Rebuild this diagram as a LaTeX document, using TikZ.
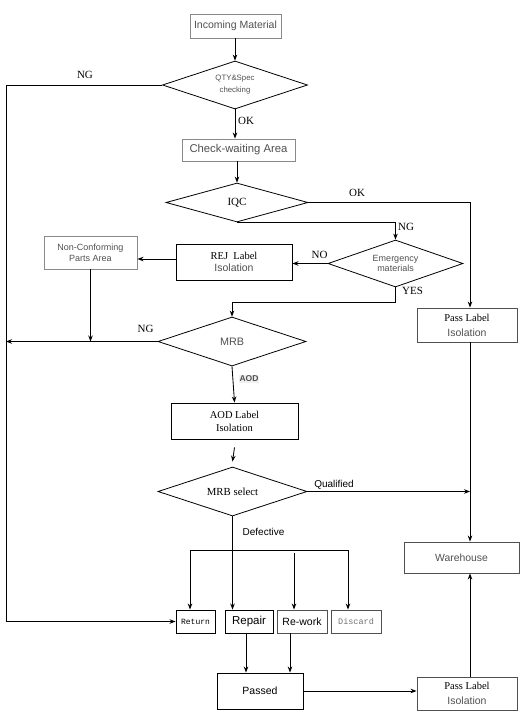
\documentclass[tikz,border=0pt]{standalone}
\usepackage{fontspec}
\setmainfont{Liberation Serif}
\setsansfont{Liberation Sans}
\setmonofont{Liberation Mono}
\usetikzlibrary{shapes.geometric,arrows.meta}
\definecolor{txtgray}{HTML}{505050}
\definecolor{bordgray}{HTML}{8A8A8A}
\newcommand{\fsz}[2]{\fontsize{#1}{#2}\selectfont}
\tikzset{
  box/.style={draw, rectangle, inner sep=0pt, line width=0.9pt, align=center},
  gbox/.style={box, draw=bordgray},
  dia/.style={draw, diamond, shape aspect=3, inner sep=0pt, line width=0.8pt, align=center},
  arr/.style={-{Stealth[length=6pt,width=4.5pt]}, line width=0.85pt},
  ln/.style={line width=0.85pt},
  lab/.style={inner sep=0pt, font=\fsz{11}{11}},
  slab/.style={inner sep=0pt, font=\sffamily\fsz{10}{10}},
}
\begin{document}
\begin{tikzpicture}[x=1pt,y=-1pt]
\useasboundingbox (0,0) rectangle (521,714);
% nodes
\node[gbox, minimum width=91, minimum height=24, text=txtgray, font=\sffamily\fsz{10.5}{12}] (inc) at (235.5,26) {Incoming Material};
\node[dia, minimum width=145, minimum height=48, text=txtgray, font=\sffamily\fsz{7.8}{12}] (qty) at (235,85) {QTY\&Spec\\checking};
\node[gbox, minimum width=113, minimum height=22, text=txtgray, font=\sffamily\fsz{11.3}{13}] (chk) at (238.5,150) {Check-waiting Area};
\node[dia, minimum width=142, minimum height=39, font=\fsz{11}{12}] (iqc) at (237,202.5) {IQC};
\node[dia, minimum width=135, minimum height=47, text=txtgray, font=\sffamily\fsz{9}{10}] (emg) at (395.5,263.5) {Emergency\\materials};
\node[box, minimum width=116, minimum height=36, font=\fsz{10.5}{12.5}] (rej) at (234,262) {REJ\ \ Label\\{\sffamily\color{txtgray}Isolation}};
\node[gbox, minimum width=93, minimum height=33, text=txtgray, font=\sffamily\fsz{9}{11}] (nc) at (90.5,252.5) {Non-Conforming\\Parts Area};
\node[box, draw=txtgray, minimum width=100, minimum height=34, font=\fsz{10.5}{15}] (pa1) at (467,325) {Pass Label\\{\sffamily\color{txtgray}Isolation}};
\node[dia, minimum width=148, minimum height=49, text=txtgray, font=\sffamily\fsz{10.8}{12}] (mrb) at (232,341.5) {MRB};
\node[box, minimum width=127, minimum height=36, font=\fsz{10.5}{13}] (aod) at (234.5,421) {AOD Label\\Isolation};
\node[dia, minimum width=149, minimum height=49, font=\fsz{10.8}{12}] (mrbs) at (232.5,491.5) {MRB select};
\node[box, draw=txtgray, minimum width=115, minimum height=31, text=txtgray, font=\sffamily\fsz{10.4}{12}] (wh) at (461.5,557.5) {Warehouse};
\node[box, minimum width=39, minimum height=23, font=\ttfamily\fsz{8}{10}] (ret) at (195.5,621.5) {Return};
\node[box, minimum width=48, minimum height=23, font=\sffamily\fsz{11.5}{12}] (rep) at (249,621.5) {Repair};
\node[box, draw=txtgray, minimum width=50, minimum height=23, font=\sffamily\fsz{10.5}{12}] (rw) at (302,621.5) {Re-work};
\node[box, draw=txtgray, minimum width=50, minimum height=23, text=txtgray!80, font=\ttfamily\fsz{8.5}{10}] (dis) at (356,621.5) {Discard};
\node[box, minimum width=86, minimum height=36, font=\sffamily\fsz{10.5}{12}] (pas) at (260,691) {Passed};
\node[box, draw=txtgray, minimum width=100, minimum height=33, font=\fsz{10.5}{15}] (pa2) at (467,693.5) {Pass Label\\{\sffamily\color{txtgray}Isolation}};
% helper coordinates
\coordinate (lft) at (6,0);
\coordinate (col) at (470,0);
\coordinate (brl) at (190,550);
\coordinate (brr) at (348,550);
\coordinate (brw) at (294,550);
% connectors
\draw[arr] (qty.north |- inc.south) -- (qty.north);
\draw[ln] (qty.west) -- (qty.west -| lft) -- (lft |- ret.west);
\draw[arr] (lft |- ret.west) -- (ret.west);
\draw[arr] (qty.south) -- (qty.south |- chk.north);
\draw[arr] (iqc.north |- chk.south) -- (iqc.north);
\draw[arr] (iqc.east) -- (iqc.east -| col) -- (col |- pa1.north);
\draw[arr] (iqc.south) -- (iqc.south -| emg.north) -- (emg.north);
\draw[arr] (emg.west) -- (emg.west -| rej.east);
\draw[arr] ([yshift=3pt]rej.west) -- ([yshift=3pt]rej.west -| nc.east);
\draw[arr] (nc.south) -- (nc.south |- mrb.west);
\draw[arr] (emg.south) -- ++(0,15) -| (mrb.north);
\draw[arr] (mrb.west) -- (mrb.west -| lft);
\draw[arr] (mrb.south) -- (aod.north);
\draw[arr] ([yshift=-8pt]aod.south) -- ([yshift=5pt]mrbs.north);
\draw[arr] (mrbs.east) -- (mrbs.east -| col);
\draw[arr] (col |- pa1.south) -- (col |- wh.north);
\draw[ln] (mrbs.south) -- (mrbs.south |- brl);
\draw[ln] (brl) -- (brr);
\draw[arr] (mrbs.south |- brl) -- (mrbs.south |- rep.north);
\draw[arr] (brl) -- (brl |- ret.north);
\draw[arr] ([yshift=-3pt]brw) -- (brw |- rw.north);
\draw[arr] (brr) -- (brr |- dis.north);
\draw[arr] ([xshift=-3pt]rep.south) -- ([xshift=-3pt]rep.south |- pas.north);
\draw[arr] ([xshift=-12pt]rw.south) -- ([xshift=-12pt]rw.south |- pas.north);
\draw[arr] (pas.east) -- (pas.east -| pa2.west);
\draw[arr] (col |- pa2.north) -- (col |- wh.south);
% labels
\node[lab] (lng1) at (85,75) {NG};
\node[lab, anchor=west] (lok1) at (238,121) {OK};
\node[lab] (lok2) at (357,193) {OK};
\node[lab] (lng2) at (406,227) {NG};
\node[lab] (lno) at (319.5,255) {NO};
\node[lab] (lyes) at (412.5,291) {YES};
\node[lab] (lng3) at (145.5,329) {NG};
\node[inner sep=1pt, fill=gray!12, text=txtgray, font=\sffamily\bfseries\fsz{8.5}{10}] (laod) at (249,379) {AOD};
\node[slab] (lq) at (334,485) {Qualified};
\node[slab] (ldef) at (263.5,532) {Defective};
\end{tikzpicture}
\end{document}
